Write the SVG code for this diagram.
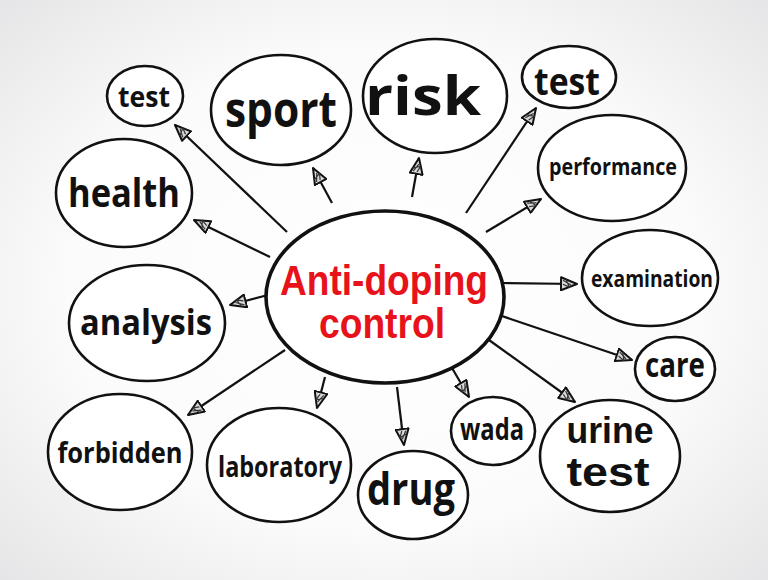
<svg xmlns="http://www.w3.org/2000/svg" width="768" height="580" viewBox="0 0 768 580">
<defs>
<radialGradient id="bg" cx="0.5" cy="0.5" r="0.75">
<stop offset="0" stop-color="#ffffff"/>
<stop offset="0.55" stop-color="#fbfbfb"/>
<stop offset="1" stop-color="#e2e2e4"/>
</radialGradient>
<marker id="ah" viewBox="0 0 18 15" refX="17" refY="7.5" markerWidth="18" markerHeight="15" markerUnits="userSpaceOnUse" orient="auto">
<path d="M1,1 L17,7.5 L1,14 Z" fill="#d8d8d8" stroke="#111" stroke-width="2" stroke-linejoin="round"/>
<path d="M3,4 L11,8.5 M3,8 L10,11 M6,3 L9,10" stroke="#333" stroke-width="1.2" fill="none"/>
</marker>
</defs>
<style>
.node ellipse{fill:#ffffff;stroke:#111;stroke-width:2.6}
.node text{font-family:"Open Sans","Liberation Sans",sans-serif;font-weight:700;fill:#111;text-anchor:middle}
#center ellipse{stroke-width:3.6}
#center text{fill:#e8121a;font-family:"Liberation Sans","Open Sans",sans-serif}
#urine-test text{font-family:"Liberation Sans","Open Sans",sans-serif}
#connectors line{stroke:#111;stroke-width:2.2;marker-end:url(#ah)}
</style>
<rect x="0" y="0" width="768" height="580" fill="url(#bg)"/>
<g id="connectors">
<line x1="287" y1="232" x2="175" y2="125"/>
<line x1="332" y1="203" x2="313" y2="168"/>
<line x1="270" y1="257" x2="194" y2="220"/>
<line x1="412" y1="197" x2="419" y2="158"/>
<line x1="466" y1="213" x2="536" y2="108"/>
<line x1="486" y1="232" x2="541" y2="199"/>
<line x1="502" y1="283" x2="577" y2="284"/>
<line x1="268" y1="295" x2="230" y2="305"/>
<line x1="285" y1="350" x2="188" y2="415"/>
<line x1="325" y1="377" x2="317" y2="408"/>
<line x1="499" y1="315" x2="632" y2="360"/>
<line x1="489" y1="340" x2="575" y2="402"/>
<line x1="452" y1="368" x2="469" y2="397"/>
<line x1="397" y1="387" x2="404" y2="445"/>
</g>
<g id="center" class="node">
<ellipse cx="385" cy="297" rx="119" ry="86"/>
<text x="384" y="295" font-size="42" textLength="208" lengthAdjust="spacingAndGlyphs">Anti-doping</text>
<text x="382" y="338" font-size="42" textLength="126" lengthAdjust="spacingAndGlyphs">control</text>
</g>
<g id="test-left" class="node">
<ellipse cx="145" cy="96" rx="38" ry="30"/>
<text x="144" y="107" font-size="28" textLength="52" lengthAdjust="spacingAndGlyphs">test</text>
</g>
<g id="sport" class="node">
<ellipse cx="281" cy="110" rx="70" ry="55"/>
<text x="281" y="127" font-size="50" textLength="112" lengthAdjust="spacingAndGlyphs">sport</text>
</g>
<g id="risk" class="node">
<ellipse cx="435" cy="96" rx="72" ry="57"/>
<text x="423" y="115" font-size="54" textLength="116" lengthAdjust="spacingAndGlyphs">risk</text>
</g>
<g id="test-right" class="node">
<ellipse cx="569" cy="77" rx="47" ry="31"/>
<text x="567" y="95" font-size="38" textLength="66" lengthAdjust="spacingAndGlyphs">test</text>
</g>
<g id="health" class="node">
<ellipse cx="124" cy="193" rx="68" ry="54"/>
<text x="124" y="207" font-size="40" textLength="112" lengthAdjust="spacingAndGlyphs">health</text>
</g>
<g id="performance" class="node">
<ellipse cx="612" cy="168" rx="74" ry="53"/>
<text x="613" y="175" font-size="24" textLength="128" lengthAdjust="spacingAndGlyphs">performance</text>
</g>
<g id="examination" class="node">
<ellipse cx="650" cy="278" rx="68" ry="48"/>
<text x="652" y="287" font-size="24" textLength="122" lengthAdjust="spacingAndGlyphs">examination</text>
</g>
<g id="analysis" class="node">
<ellipse cx="147" cy="323" rx="78" ry="58"/>
<text x="146" y="335" font-size="36" textLength="132" lengthAdjust="spacingAndGlyphs">analysis</text>
</g>
<g id="care" class="node">
<ellipse cx="675" cy="369" rx="40" ry="32"/>
<text x="675" y="377" font-size="34" textLength="60" lengthAdjust="spacingAndGlyphs">care</text>
</g>
<g id="forbidden" class="node">
<ellipse cx="120" cy="452" rx="72" ry="58"/>
<text x="120" y="463" font-size="28" textLength="125" lengthAdjust="spacingAndGlyphs">forbidden</text>
</g>
<g id="laboratory" class="node">
<ellipse cx="279" cy="465" rx="72" ry="57"/>
<text x="280" y="477" font-size="28" textLength="124" lengthAdjust="spacingAndGlyphs">laboratory</text>
</g>
<g id="drug" class="node">
<ellipse cx="413" cy="495" rx="55" ry="44"/>
<text x="411" y="505" font-size="44" textLength="88" lengthAdjust="spacingAndGlyphs">drug</text>
</g>
<g id="wada" class="node">
<ellipse cx="493" cy="431" rx="42" ry="34"/>
<text x="492" y="440" font-size="30" textLength="64" lengthAdjust="spacingAndGlyphs">wada</text>
</g>
<g id="urine-test" class="node">
<ellipse cx="610" cy="456" rx="70" ry="56"/>
<text x="610" y="443" font-size="36" textLength="87" lengthAdjust="spacingAndGlyphs">urine</text>
<text x="608" y="486" font-size="40" textLength="83" lengthAdjust="spacingAndGlyphs">test</text>
</g>
</svg>
